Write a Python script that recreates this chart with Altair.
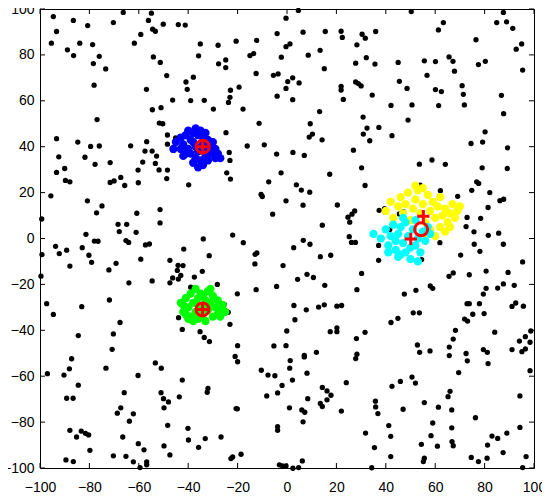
import altair as alt
import pandas as pd

# ---------------- data ----------------
black_pts = [
(-94.6,96.7),(-86.5,95.0),(-93.3,90.2),(-95.4,85.1),(-80.7,92.8),(-70.3,94.1),(-66.3,98.5),(-54.9,98.2),(-56.1,95.0),(-50.1,93.4),(-54.4,91.2),(-53.3,90.3),(-59.2,88.9),(-61.8,85.1),(-88.9,82.2),(-83.9,85.1),(-78.7,84.5),(-86.4,79.7),(-76.0,79.4),(-78.4,76.2),(-73.4,73.9),(-54.1,79.1),(-51.3,76.7),(-78.1,66.8),(-56.9,65.0),(-76.9,51.8),(-54.5,56.1),(-51.0,57.0),(-51.7,50.3),(-50.3,50.0),(-93.3,43.5),(-84.7,42.0),(-79.5,40.1),(-76.0,40.3),(-63.3,40.4),(-56.8,42.2),(-57.5,38.1),(-54.6,38.1),(-52.8,35.9),(-92.4,35.6),(-81.8,35.4),(-71.6,33.1),(-77.7,32.3),(-58.4,33.3),(-53.3,32.7),
(-44.0,93.2),(-41.2,93.0),(-35.1,84.8),(-27.9,84.2),(-20.6,86.0),(-12.3,86.3),(-4.0,89.3),(-0.4,96.0),(-0.4,83.6),(-35.8,79.6),(-27.7,76.1),(-24.8,77.8),(-24.8,74.5),(-15.0,79.7),(-13.5,80.6),(-2.3,79.0),(-48.7,71.0),(-37.9,70.3),(-40.9,68.2),(-40.4,65.0),(-12.5,71.9),(-5.5,71.1),(-3.6,71.7),(0.3,68.4),(-0.4,65.4),(-22.9,64.6),(-19.4,66.0),(-23.1,61.5),(-23.7,59.3),(-46.3,60.3),(-39.0,60.1),(-33.5,60.2),(-29.8,56.4),(-17.8,56.4),(-4.0,62.0),(-11.3,50.2),(-24.7,46.1),(-48.4,45.1),(-45.1,43.8),(-48.4,41.1),(-16.1,40.3),(-9.2,40.8),(-23.4,37.5),(-23.1,34.0),(-4.2,36.8),
(4.6,99.4),(6.5,89.9),(15.5,90.2),(21.9,90.3),(22.4,87.6),(30.4,89.0),(31.7,87.3),(35.9,90.2),(1.2,84.8),(28.3,84.4),(13.4,82.0),(8.6,79.9),(32.1,78.8),(27.8,76.4),(35.6,76.0),(45.0,76.7),(15.1,74.0),(2.3,70.0),(4.9,67.8),(21.9,66.3),(21.9,64.7),(27.8,68.2),(28.9,67.5),(30.0,66.5),(45.5,68.5),(48.6,65.4),(2.3,60.5),(22.8,60.6),(34.5,62.5),(42.1,58.0),(13.2,55.3),(30.8,52.9),(49.0,51.6),(9.4,50.0),(32.4,48.1),(37.2,48.4),(10.3,45.5),(9.0,44.2),(14.2,43.0),(30.9,45.5),(33.5,42.6),(42.5,44.8),(2.4,37.5),(7.0,36.2),(26.9,38.5),
(50.3,98.9),(63.3,94.1),(61.3,90.9),(87.6,98.5),(84.9,94.1),(88.9,94.4),(91.4,91.6),(76.5,86.6),(95.0,84.8),(92.8,82.5),(55.6,77.4),(60.1,77.1),(65.6,79.1),(67.2,77.2),(67.8,72.9),(56.7,71.1),(77.5,75.8),(80.3,77.2),(95.4,73.4),(60.1,64.9),(62.5,64.0),(70.9,66.6),(71.4,62.8),(71.8,58.2),(50.6,58.2),(61.4,57.9),(86.8,62.4),(87.7,54.4),(80.2,46.5),(74.5,41.4),(79.2,42.0),(89.3,39.5),(58.7,34.2),(53.6,32.4),(64.1,32.3),
(-93.3,28.8),(-90.0,30.5),(-89.7,25.3),(-87.9,24.7),(-95.6,18.6),(-71.6,24.4),(-70.0,25.1),(-67.3,26.6),(-65.7,23.1),(-60.3,29.8),(-60.2,24.3),(-51.8,29.9),(-80.8,16.4),(-74.9,14.2),(-77.1,11.2),(-99.3,8.5),(-51.4,12.6),(-51.4,6.8),(-68.4,6.2),(-64.9,6.2),(-60.8,11.0),(-81.4,1.8),(-67.9,3.0),(-61.1,2.7),(-78.0,-1.1),(-76.5,-1.2),(-65.2,-0.9),(-64.1,-1.7),(-57.3,-2.8),(-55.7,-2.4),(-93.7,-3.4),(-92.2,-6.6),(-89.2,-5.1),(-99.2,-7.0),(-82.9,-4.0),(-80.2,-7.3),(-79.1,-10.4),(-87.9,-12.0),(-59.2,-9.0),(-69.2,-10.8),(-72.1,-13.7),(-99.6,-16.4),(-64.0,-19.3),(-54.6,-18.5),(-97.3,-28.4),(-94.6,-33.1),(-83.1,-29.7),(-71.9,-26.8),
(-48.4,29.8),(-48.7,26.1),(-24.4,28.6),(-22.9,25.9),(-39.8,23.4),(-2.4,28.6),(-7.4,24.7),(-10.5,19.2),(-10.0,18.3),(-0.4,16.4),(-5.8,10.6),(-33.9,-0.2),(-22.0,1.5),(-17.7,-1.8),(-41.8,-4.6),(-31.5,-7.5),(-12.9,-6.9),(-12.2,-6.3),(-13.0,-11.1),(-1.6,-11.8),(-47.4,-9.5),(-44.1,-11.7),(-42.1,-11.8),(-44.4,-13.9),(-43.0,-16.1),(-46.3,-17.2),(-44.0,-17.7),(-47.4,-19.3),(-37.5,-16.8),(-34.3,-14.3),(-39.0,-21.2),(-28.2,-20.0),(-12.5,-22.3),(-4.2,-20.9),(-20.1,-24.1),(-43.9,-34.5),(-23.8,-32.1),(-25.4,-28.7),
(30.2,30.8),(17.3,28.0),(3.8,23.4),(5.8,21.1),(9.2,20.2),(31.6,23.1),(6.5,14.5),(20.4,14.6),(27.4,12.0),(26.3,10.6),(24.7,9.3),(25.4,7.1),(37.3,12.3),(39.5,13.0),(39.8,11.4),(45.5,10.7),(47.2,11.7),(14.3,5.8),(41.6,3.9),(6.6,-0.8),(9.3,-2.5),(2.7,-4.0),(25.2,0.8),(26.1,-1.7),(27.7,-1.7),(37.1,-3.0),(13.5,-7.9),(17.7,-7.3),(37.1,-9.5),(30.2,-15.2),(8.1,-15.6),(10.7,-17.0),(4.3,-17.8),(15.3,-20.4),(28.3,-22.3),(47.5,-24.2),(2.8,-29.2),(7.8,-31.1),(12.8,-29.9),(15.1,-28.9),(20.2,-29.5),(22.1,-29.2),(3.2,-35.4),(44.9,-34.8),
(79.0,30.8),(89.2,30.5),(53.9,23.2),(62.1,20.8),(69.1,18.4),(76.8,24.7),(77.6,24.0),(74.8,21.0),(82.1,20.0),(86.2,16.5),(87.7,17.1),(81.4,13.5),(72.9,9.2),(78.4,8.8),(72.5,5.2),(75.7,2.9),(81.5,1.4),(85.7,2.3),(61.9,-1.8),(75.8,-2.5),(87.6,-2.5),(78.1,-5.6),(70.3,-7.2),(54.5,-9.2),(95.4,-10.2),(80.6,-14.2),(89.5,-14.8),(67.3,-15.0),(65.6,-16.5),(73.8,-15.8),(58.0,-20.7),(59.0,-21.7),(80.6,-21.7),(85.3,-21.6),(87.6,-19.8),(92.0,-20.4),(79.5,-24.2),(52.2,-22.6),(72.9,-28.4),(73.8,-28.4),(77.9,-28.4),(91.1,-29.6),(92.6,-28.1),(95.7,-29.5),(51.1,-32.4),(53.6,-32.4),(75.2,-33.0),(79.8,-32.7),(71.9,-35.1),
(-67.6,-36.6),(-70.3,-41.6),(-84.5,-42.3),(-70.8,-48.3),(-87.2,-52.4),(-88.1,-56.8),(-73.3,-56.5),(-53.3,-54.2),(-50.9,-56.5),(-97.0,-58.9),(-90.3,-59.5),(-60.3,-59.7),(-84.5,-63.9),(-89.2,-69.6),(-86.6,-69.6),(-65.9,-67.2),(-51.0,-67.2),(-50.0,-69.8),(-49.8,-73.8),(-67.3,-73.8),(-68.7,-76.1),(-62.2,-76.4),(-63.8,-79.6),(-87.9,-83.6),(-83.3,-83.9),(-81.6,-84.9),(-80.3,-85.6),(-85.2,-86.5),(-66.5,-86.5),(-60.2,-89.4),(-57.9,-92.1),(-79.8,-92.3),(-49.8,-90.4),(-89.5,-96.5),(-86.5,-97.2),(-70.3,-94.7),(-65.2,-94.9),(-62.2,-97.3),(-56.8,-97.3),(-56.8,-98.6),(-59.5,-99.8),
(-42.4,-39.6),(-35.2,-40.6),(-33.5,-43.1),(-31.4,-44.9),(-23.1,-37.4),(-20.0,-46.7),(-21.0,-51.4),(-20.0,-53.7),(-42.4,-61.7),(-32.0,-65.3),(-32.3,-67.0),(-43.6,-69.0),(-48.0,-71.2),(-20.6,-74.1),(-20.1,-74.2),(-48.3,-81.4),(-40.1,-82.7),(-39.9,-87.8),(-33.1,-87.2),(-26.7,-86.5),(-35.8,-91.0),(-47.4,-94.3),(-18.6,-94.0),(-22.7,-95.9),(-22.0,-95.2),(-10.4,-57.4),(-7.7,-59.5),(-4.9,-59.8),(-5.3,-46.8),(-0.4,-46.7),(-0.1,-40.3),(-2.0,-64.0),(-3.8,-67.3),(-8.2,-68.6),(-3.8,-82.0),(-3.8,-83.6),(-3.1,-98.6),(-1.8,-99.1),(-0.4,-99.1),
(42.1,-36.6),(17.5,-40.6),(20.2,-38.9),(20.2,-40.6),(31.6,-40.9),(28.1,-43.6),(1.3,-53.2),(1.1,-56.5),(2.2,-61.7),(7.0,-50.9),(7.0,-51.6),(11.9,-49.6),(28.3,-50.4),(27.8,-52.3),(8.1,-58.7),(14.3,-64.9),(16.2,-66.4),(17.8,-68.3),(16.2,-70.3),(13.5,-71.9),(14.3,-73.2),(24.0,-62.8),(8.4,-69.8),(1.0,-73.8),(6.0,-74.7),(7.2,-75.7),(6.5,-79.9),(22.0,-75.2),(35.8,-70.9),(35.9,-73.4),(36.8,-76.3),(42.5,-64.4),(45.9,-62.3),(47.0,-74.4),(41.2,-81.5),(42.0,-86.2),(31.8,-84.8),(35.4,-91.1),(42.0,-95.0),(6.2,-96.9),(2.4,-100.1),(4.7,-99.8),(34.3,-99.9),
(73.1,-36.0),(68.2,-40.0),(67.3,-43.8),(84.1,-40.8),(98.7,-40.3),(52.8,-46.4),(53.7,-49.6),(57.9,-49.0),(65.7,-47.3),(65.7,-51.0),(72.5,-50.1),(73.0,-53.3),(79.5,-48.4),(81.1,-49.6),(81.4,-54.5),(91.1,-48.4),(94.1,-44.7),(96.5,-42.8),(98.4,-45.2),(95.1,-49.3),(96.5,-48.1),(98.4,-57.6),(69.5,-58.4),(50.6,-60.4),(52.0,-63.0),(66.0,-66.6),(65.2,-68.9),(55.6,-71.5),(61.3,-73.5),(66.7,-74.7),(94.3,-68.6),(76.3,-78.1),(59.0,-80.4),(66.7,-82.5),(94.3,-82.3),(58.3,-85.9),(83.0,-86.1),(85.3,-87.1),(89.0,-84.8),(81.2,-90.0),(66.8,-88.5),(67.3,-90.3),(54.4,-89.7),(60.9,-90.5),(87.5,-93.3),(74.6,-95.4),(77.5,-97.2),(81.0,-95.7),(55.6,-95.7),(55.2,-97.2),(96.8,-95.0),(95.4,-99.8),
]

blue_pts = [(-46,39),(-45,42),(-43,44),(-42,41),(-41,45),(-40,47),(-39,43),(-38,46),(-37,48),(-36,45),(-35,47),(-34,44),(-33,46),(-32,43),(-31,41),(-30,42),(-29,39),(-28,37),(-27,35),(-29,35),(-31,37),(-32,34),(-33,36),(-34,32),(-35,34),(-36,31),(-37,35),(-38,33),(-39,37),(-40,39),(-41,37),(-42,36),(-43,39),(-37,40),(-38,42),(-36,38),(-33,40),(-34,41),(-32,39),(-30,39)]
green_pts = [(-43,-28),(-42,-32),(-41,-26),(-40,-30),(-39,-34),(-39,-24),(-38,-28),(-37,-32),(-37,-22),(-36,-26),(-36,-35),(-35,-24),(-34,-33),(-33,-27),(-33,-36),(-32,-23),(-32,-31),(-31,-28),(-30,-34),(-30,-25),(-29,-30),(-28,-27),(-28,-33),(-27,-31),(-26,-29),(-38,-36),(-40,-35),(-41,-33),(-34,-25),(-31,-22),(-36,-29),(-34,-30),(-27,-34),(-25,-32),(-42,-29)]
yellow_pts = [(40,12),(42,16),(43,9),(45,14),(46,18),(47,11),(48,15),(49,20),(50,8),(51,13),(52,17),(53,21),(54,11),(55,15),(56,7),(57,19),(58,12),(59,16),(60,9),(61,14),(62,18),(63,10),(64,13),(65,7),(66,11),(67,15),(68,9),(69,12),(58,4),(62,5),(64,3),(66,5),(60,1),(56,2),(52,23),(55,22),(70,14)]
cyan_pts = [(35,2),(38,0),(40,4),(41,-3),(42,1),(43,6),(44,-5),(45,2),(45,-8),(46,5),(47,-2),(48,7),(48,-6),(49,1),(50,-9),(51,4),(52,-3),(52,8),(53,0),(54,-6),(55,3),(56,-1),(57,5),(58,2),(44,-1),(47,9),(50,-4),(53,-10),(46,-7),(41,-6)]

circle_centres = [(-34.1, 40.0), (-34.2, -30.9), (54.3, 4.0)]
plus_centres = [(-34.1, 40.0), (-34.2, -30.9), (55.2, 9.7), (50.1, -0.2)]

tick_values = [-100, -80, -60, -40, -20, 0, 20, 40, 60, 80, 100]

# ---------------- tables ----------------
def frame(pts, group=None):
    d = pd.DataFrame(pts, columns=["x", "y"])
    if group is not None:
        d["g"] = group
    return d

black_df = frame(black_pts)
cluster_df = pd.concat([frame(yellow_pts, "yellow"), frame(cyan_pts, "cyan"),
                        frame(blue_pts, "blue"), frame(green_pts, "green")], ignore_index=True)
circ_df = frame(circle_centres)
plus_df = frame(plus_centres)
tick_df = pd.DataFrame({"t": tick_values})

W, H = 494, 459
TL = 5
xs = alt.Scale(domain=[-100, 100], nice=False, zero=False)
ys = alt.Scale(domain=[-100, 100], nice=False, zero=False)
FONT = "Liberation Sans"

xaxis = alt.Axis(values=tick_values, grid=False, ticks=False, domain=False, labelFontSize=14,
                 labelFont=FONT, labelColor="black", labelPadding=12, title=None, labelFlush=False)
yaxis = alt.Axis(values=tick_values, grid=False, ticks=False, domain=False, labelFontSize=14,
                 labelFont=FONT, labelColor="black", labelPadding=6, title=None, labelFlush=False)

black = alt.Chart(black_df).mark_circle(size=28, color="black", opacity=1).encode(
    x=alt.X("x:Q", scale=xs, axis=xaxis), y=alt.Y("y:Q", scale=ys, axis=yaxis))

clusters = alt.Chart(cluster_df).mark_circle(size=68, opacity=1).encode(
    x=alt.X("x:Q", scale=xs), y=alt.Y("y:Q", scale=ys),
    color=alt.Color("g:N", scale=alt.Scale(domain=["yellow", "cyan", "blue", "green"],
                                            range=["#FFFF00", "#00FFFF", "#0000FF", "#00FF00"]),
                    legend=None))

circ = alt.Chart(circ_df).mark_point(shape="circle", filled=False, color="#FF0000", size=170,
                                     strokeWidth=3, opacity=1).encode(
    x=alt.X("x:Q", scale=xs), y=alt.Y("y:Q", scale=ys))

plus = alt.Chart(plus_df).mark_point(shape="M-1,0L1,0M0,-1L0,1", filled=False, color="#FF0000",
                                     size=150, strokeWidth=3, opacity=1).encode(
    x=alt.X("x:Q", scale=xs), y=alt.Y("y:Q", scale=ys))

tb = alt.Chart(tick_df).mark_rule(color="black", strokeWidth=1)
ticks_bottom = tb.encode(x=alt.X("t:Q", scale=xs), y=alt.value(H), y2=alt.value(H - TL))
ticks_top = tb.encode(x=alt.X("t:Q", scale=xs), y=alt.value(0), y2=alt.value(TL))
ticks_left = tb.encode(y=alt.Y("t:Q", scale=ys), x=alt.value(0), x2=alt.value(TL))
ticks_right = tb.encode(y=alt.Y("t:Q", scale=ys), x=alt.value(W), x2=alt.value(W - TL))

chart = alt.layer(black, clusters, circ, plus, ticks_bottom, ticks_top, ticks_left, ticks_right).properties(
    width=W, height=H,
    autosize=alt.AutoSizeParams(type="none"),
    padding={"left": 32, "top": 1, "right": 8, "bottom": 28},
    background="white",
).configure_view(stroke="black", strokeWidth=1)

chart.save("out.html", embed_options={"renderer": "svg", "actions": False})
